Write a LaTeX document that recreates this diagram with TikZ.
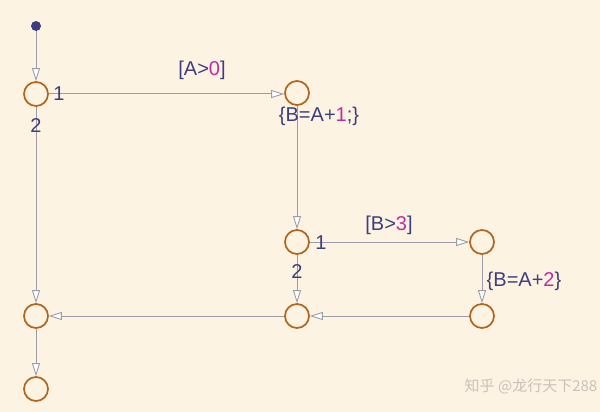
\documentclass[tikz,border=0pt]{standalone}
\usepackage{fontspec}
\setmainfont{Liberation Sans}
\newfontfamily\cjkfont{Noto Sans CJK SC}
\usetikzlibrary{arrows.meta}
\definecolor{bg}{HTML}{FDF3E2}
\definecolor{junc}{HTML}{B0641E}
\definecolor{wire}{HTML}{9C9CAA}
\definecolor{txt}{HTML}{3E3E7E}
\definecolor{num}{HTML}{C02CA0}
\definecolor{wm}{HTML}{C9C2BA}
\tikzset{
  junction/.style={circle, draw=junc, line width=1.7pt, minimum size=24pt, inner sep=0pt},
  startdot/.style={circle, fill=txt, minimum size=10pt, inner sep=0pt},
  trans/.style={draw=wire, line width=1pt, -{Triangle[length=13pt,width=8pt,fill=white,line width=0.9pt]}},
  lbl/.style={text=txt, font=\fontsize{20}{20}\selectfont, inner sep=0pt},
}
\newcommand{\nm}[1]{\textcolor{num}{#1}}
\begin{document}
\begin{tikzpicture}[x=1pt,y=-1pt]
\fill[bg] (0,0) rectangle (600,412);
\useasboundingbox (0,0) rectangle (600,412);
\node[startdot] (s) at (36,26) {};
\node[junction] (a) at (36,94) {};
\node[junction] (b) at (297,93) {};
\node[junction] (c) at (297,242) {};
\node[junction] (d) at (482,242) {};
\node[junction] (e) at (297,316) {};
\node[junction] (f) at (482,316) {};
\node[junction] (g) at (36,316) {};
\node[junction] (h) at (36,389) {};

\draw[trans] (s) -- (a);
\draw[trans] (a.east) -- (a.east -| b.west);
\draw[trans] (b) -- (c);
\draw[trans] (a) -- (g);
\draw[trans] (c) -- (d);
\draw[trans] (c) -- (e);
\draw[trans] (d) -- (f);
\draw[trans] (f) -- (e);
\draw[trans] (e) -- (g);
\draw[trans] (g) -- (h);

\node[lbl] (l1) at (59,94) {1};
\node[lbl] (l2) at (36,126) {2};
\node[lbl] (gA) at (202,70) {[A>\nm{0}]};
\node[lbl] (aB) at (319,116) {\{B=A+\nm{1};\}};
\node[lbl] (l3) at (321,243) {1};
\node[lbl] (l4) at (297,272) {2};
\node[lbl] (gB) at (389,225) {[B>\nm{3}]};
\node[lbl] (aD) at (524,281) {\{B=A+\nm{2}\}};
\node[text=wm, font=\cjkfont\fontsize{15}{15}\selectfont, inner sep=0pt] (wmk) at (531,386) {知乎 @龙行天下288};
\end{tikzpicture}
\end{document}
